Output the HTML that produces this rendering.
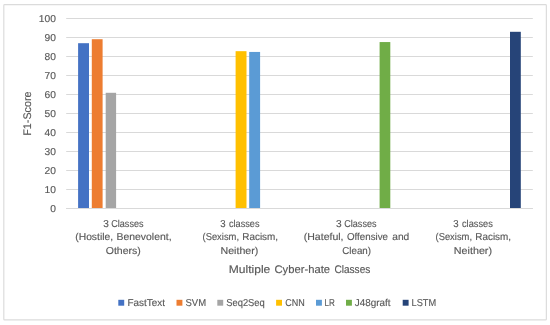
<!DOCTYPE html>
<html><head><meta charset="utf-8"><title>Chart</title>
<style>html,body{margin:0;padding:0;background:#fff;overflow:hidden}</style></head>
<body>
<svg width="550" height="325" viewBox="0 0 550 325" style="display:block" font-family="'Liberation Sans', sans-serif" fill="#595959">
<rect x="0" y="0" width="550" height="325" fill="#fff"/>
<rect x="3.8" y="4.65" width="542.55" height="315.30" rx="0.8" fill="#fff" stroke="#dbdbdb" stroke-width="1.15"/>
<line x1="66.2" y1="208.50" x2="532.8" y2="208.50" stroke="#d9d9d9" stroke-width="1"/>
<line x1="66.2" y1="189.50" x2="532.8" y2="189.50" stroke="#d9d9d9" stroke-width="1"/>
<line x1="66.2" y1="170.50" x2="532.8" y2="170.50" stroke="#d9d9d9" stroke-width="1"/>
<line x1="66.2" y1="151.50" x2="532.8" y2="151.50" stroke="#d9d9d9" stroke-width="1"/>
<line x1="66.2" y1="132.50" x2="532.8" y2="132.50" stroke="#d9d9d9" stroke-width="1"/>
<line x1="66.2" y1="113.50" x2="532.8" y2="113.50" stroke="#d9d9d9" stroke-width="1"/>
<line x1="66.2" y1="94.50" x2="532.8" y2="94.50" stroke="#d9d9d9" stroke-width="1"/>
<line x1="66.2" y1="75.50" x2="532.8" y2="75.50" stroke="#d9d9d9" stroke-width="1"/>
<line x1="66.2" y1="56.50" x2="532.8" y2="56.50" stroke="#d9d9d9" stroke-width="1"/>
<line x1="66.2" y1="37.50" x2="532.8" y2="37.50" stroke="#d9d9d9" stroke-width="1"/>
<line x1="66.2" y1="18.50" x2="532.8" y2="18.50" stroke="#d9d9d9" stroke-width="1"/>
<rect x="78.1" y="43.20" width="10.90" height="165.30" fill="#4472C4"/>
<rect x="91.8" y="39.21" width="10.80" height="169.29" fill="#ED7D31"/>
<rect x="105.7" y="92.79" width="10.40" height="115.71" fill="#A5A5A5"/>
<rect x="235.6" y="51.18" width="10.90" height="157.32" fill="#FFC000"/>
<rect x="249.2" y="51.94" width="10.90" height="156.56" fill="#5B9BD5"/>
<rect x="379.6" y="42.06" width="10.70" height="166.44" fill="#70AD47"/>
<rect x="510.0" y="31.80" width="10.80" height="176.70" fill="#264478"/>
<line x1="66.2" y1="208.5" x2="532.8" y2="208.5" stroke="#d9d9d9" stroke-width="1"/>
<rect x="118.3" y="299.8" width="5.9" height="5.9" fill="#4472C4"/>
<rect x="176.5" y="299.8" width="5.9" height="5.9" fill="#ED7D31"/>
<rect x="217.3" y="299.8" width="5.9" height="5.9" fill="#A5A5A5"/>
<rect x="276.1" y="299.8" width="5.9" height="5.9" fill="#FFC000"/>
<rect x="316.0" y="299.8" width="5.9" height="5.9" fill="#5B9BD5"/>
<rect x="346.0" y="299.8" width="5.9" height="5.9" fill="#70AD47"/>
<rect x="402.7" y="299.8" width="5.9" height="5.9" fill="#264478"/>
<g stroke="#595959" stroke-width="0.15" style="text-rendering:geometricPrecision">
<text transform="translate(31.3,135.75) rotate(-90)" font-size="11" textLength="44.28" lengthAdjust="spacingAndGlyphs">F1-Score</text>
<text y="212.05" font-size="10"><tspan x="50.20" textLength="5.70" lengthAdjust="spacingAndGlyphs">0</tspan></text>
<text y="193.05" font-size="10"><tspan x="44.50" textLength="11.40" lengthAdjust="spacingAndGlyphs">10</tspan></text>
<text y="174.05" font-size="10"><tspan x="44.50" textLength="11.40" lengthAdjust="spacingAndGlyphs">20</tspan></text>
<text y="155.05" font-size="10"><tspan x="44.50" textLength="11.40" lengthAdjust="spacingAndGlyphs">30</tspan></text>
<text y="136.05" font-size="10"><tspan x="44.50" textLength="11.40" lengthAdjust="spacingAndGlyphs">40</tspan></text>
<text y="117.05" font-size="10"><tspan x="44.50" textLength="11.40" lengthAdjust="spacingAndGlyphs">50</tspan></text>
<text y="98.05" font-size="10"><tspan x="44.50" textLength="11.40" lengthAdjust="spacingAndGlyphs">60</tspan></text>
<text y="79.05" font-size="10"><tspan x="44.50" textLength="11.40" lengthAdjust="spacingAndGlyphs">70</tspan></text>
<text y="60.05" font-size="10"><tspan x="44.50" textLength="11.40" lengthAdjust="spacingAndGlyphs">80</tspan></text>
<text y="41.05" font-size="10"><tspan x="44.50" textLength="11.40" lengthAdjust="spacingAndGlyphs">90</tspan></text>
<text y="22.05" font-size="10"><tspan x="38.80" textLength="17.10" lengthAdjust="spacingAndGlyphs">100</tspan></text>
<text y="226.60" font-size="10"><tspan x="103.25" textLength="5.59" lengthAdjust="spacingAndGlyphs">3</tspan> <tspan x="111.25" textLength="32.26" lengthAdjust="spacingAndGlyphs">Classes</tspan></text>
<text y="240.20" font-size="10"><tspan x="75.25" textLength="37.82" lengthAdjust="spacingAndGlyphs">(Hostile,</tspan> <tspan x="116.50" textLength="55.04" lengthAdjust="spacingAndGlyphs">Benevolent,</tspan></text>
<text y="253.90" font-size="10"><tspan x="105.75" textLength="35.04" lengthAdjust="spacingAndGlyphs">Others)</tspan></text>
<text y="226.60" font-size="10"><tspan x="220.25" textLength="5.35" lengthAdjust="spacingAndGlyphs">3</tspan> <tspan x="229.00" textLength="30.51" lengthAdjust="spacingAndGlyphs">classes</tspan></text>
<text y="240.20" font-size="10"><tspan x="202.50" textLength="36.54" lengthAdjust="spacingAndGlyphs">(Sexism,</tspan> <tspan x="242.25" textLength="35.81" lengthAdjust="spacingAndGlyphs">Racism,</tspan></text>
<text y="253.90" font-size="10"><tspan x="220.50" textLength="37.79" lengthAdjust="spacingAndGlyphs">Neither)</tspan></text>
<text y="226.60" font-size="10"><tspan x="336.00" textLength="5.65" lengthAdjust="spacingAndGlyphs">3</tspan> <tspan x="344.25" textLength="32.26" lengthAdjust="spacingAndGlyphs">Classes</tspan></text>
<text y="240.20" font-size="10"><tspan x="303.75" textLength="39.79" lengthAdjust="spacingAndGlyphs">(Hateful,</tspan> <tspan x="347.00" textLength="41.01" lengthAdjust="spacingAndGlyphs">Offensive</tspan> <tspan x="392.25" textLength="17.05" lengthAdjust="spacingAndGlyphs">and</tspan></text>
<text y="253.90" font-size="10"><tspan x="342.25" textLength="28.78" lengthAdjust="spacingAndGlyphs">Clean)</tspan></text>
<text y="226.60" font-size="10"><tspan x="453.25" textLength="5.35" lengthAdjust="spacingAndGlyphs">3</tspan> <tspan x="462.00" textLength="30.76" lengthAdjust="spacingAndGlyphs">classes</tspan></text>
<text y="240.20" font-size="10"><tspan x="435.50" textLength="36.54" lengthAdjust="spacingAndGlyphs">(Sexism,</tspan> <tspan x="475.25" textLength="35.81" lengthAdjust="spacingAndGlyphs">Racism,</tspan></text>
<text y="253.90" font-size="10"><tspan x="453.75" textLength="38.30" lengthAdjust="spacingAndGlyphs">Neither)</tspan></text>
<text y="272.80" font-size="11"><tspan x="228.75" textLength="41.54" lengthAdjust="spacingAndGlyphs">Multiple</tspan> <tspan x="274.50" textLength="55.52" lengthAdjust="spacingAndGlyphs">Cyber-hate</tspan> <tspan x="334.50" textLength="35.76" lengthAdjust="spacingAndGlyphs">Classes</tspan></text>
<text y="306.20" font-size="10"><tspan x="127.50" textLength="37.51" lengthAdjust="spacingAndGlyphs">FastText</tspan></text>
<text y="306.20" font-size="10"><tspan x="185.50" textLength="20.56" lengthAdjust="spacingAndGlyphs">SVM</tspan></text>
<text y="306.20" font-size="10"><tspan x="226.25" textLength="38.52" lengthAdjust="spacingAndGlyphs">Seq2Seq</tspan></text>
<text y="306.20" font-size="10"><tspan x="285.25" textLength="19.56" lengthAdjust="spacingAndGlyphs">CNN</tspan></text>
<text y="306.20" font-size="10"><tspan x="324.50" textLength="10.34" lengthAdjust="spacingAndGlyphs">LR</tspan></text>
<text y="306.20" font-size="10"><tspan x="354.75" textLength="35.75" lengthAdjust="spacingAndGlyphs">J48graft</tspan></text>
<text y="306.20" font-size="10"><tspan x="411.50" textLength="24.58" lengthAdjust="spacingAndGlyphs">LSTM</tspan></text>
</g>
</svg>
</body></html>
